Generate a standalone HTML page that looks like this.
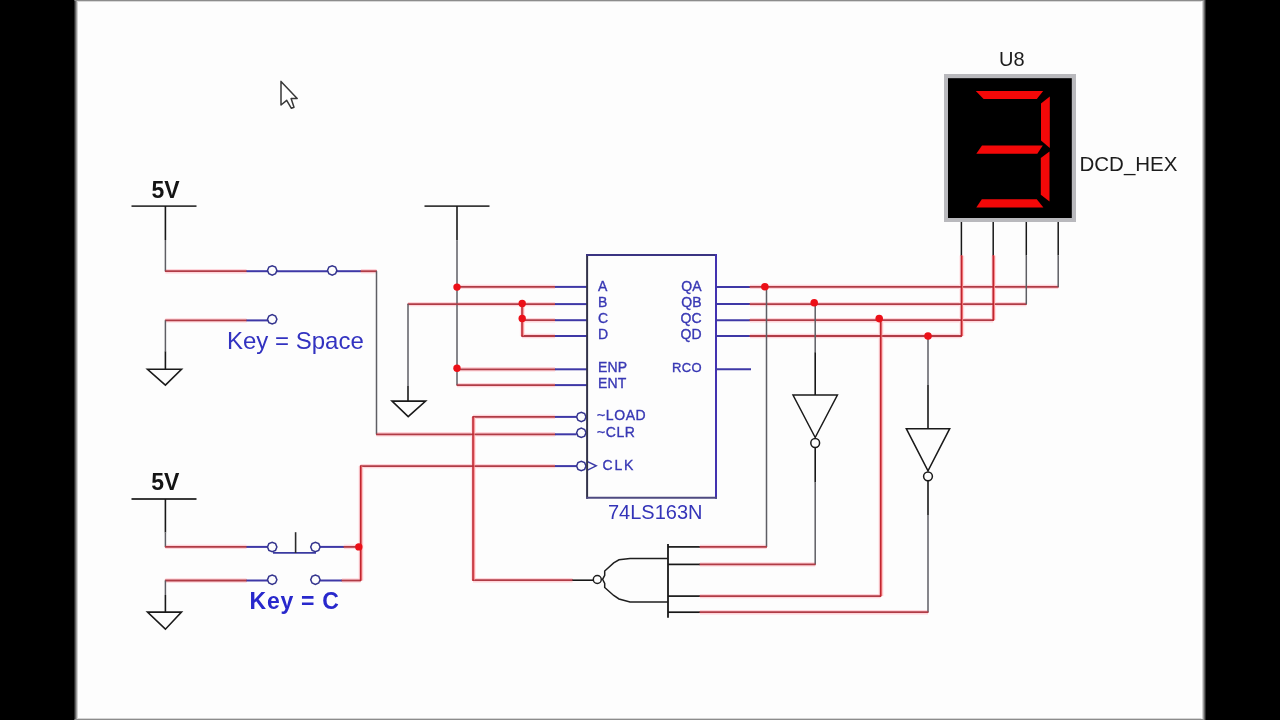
<!DOCTYPE html>
<html><head><meta charset="utf-8">
<style>
html,body{margin:0;padding:0;background:#000;width:1280px;height:720px;overflow:hidden}
svg{display:block;position:absolute;left:0;top:0;will-change:transform}
text{font-family:"Liberation Sans",sans-serif}
.pl{stroke:#3838b4;stroke-width:0.35px}
</style></head>
<body>
<svg width="1280" height="720" viewBox="0 0 1280 720">
<defs>
<linearGradient id="gl" x1="0" x2="1" y1="0" y2="0"><stop offset="0" stop-color="#000"/><stop offset="1" stop-color="#fdfdfd"/></linearGradient>
<linearGradient id="gr" x1="0" x2="1" y1="0" y2="0"><stop offset="0" stop-color="#fdfdfd"/><stop offset="1" stop-color="#000"/></linearGradient>
</defs>
<rect x="0" y="0" width="1280" height="720" fill="#000"/>
<rect x="78" y="0" width="1124" height="720" fill="#fdfdfd"/>
<rect x="73.7" y="0" width="4.6" height="720" fill="url(#gl)"/>
<rect x="1201.7" y="0" width="4.6" height="720" fill="url(#gr)"/>
<rect x="74.5" y="0" width="1129.5" height="1" fill="#8c8c8c"/>
<rect x="77.5" y="1" width="1124" height="1" fill="#d8d8d8"/>
<rect x="74.5" y="719" width="1129.5" height="1" fill="#8c8c8c"/>
<rect x="77.5" y="718" width="1124" height="1" fill="#d4d4d4"/>
<line x1="165.4" y1="271.2" x2="246.5" y2="271.2" stroke="#ffd4da" stroke-width="4.4"/>
<line x1="361" y1="271.2" x2="376.5" y2="271.2" stroke="#ffd4da" stroke-width="4.4"/>
<line x1="376.5" y1="434.3" x2="555" y2="434.3" stroke="#ffd4da" stroke-width="4.4"/>
<line x1="165.4" y1="320.4" x2="246.5" y2="320.4" stroke="#ffd4da" stroke-width="4.4"/>
<line x1="457" y1="286.9" x2="555" y2="286.9" stroke="#ffd4da" stroke-width="4.4"/>
<line x1="408" y1="304.1" x2="555" y2="304.1" stroke="#ffd4da" stroke-width="4.4"/>
<line x1="522.4" y1="304.1" x2="522.4" y2="336" stroke="#ffe2e6" stroke-width="5"/>
<line x1="522" y1="320.2" x2="555" y2="320.2" stroke="#ffd4da" stroke-width="4.4"/>
<line x1="522" y1="336" x2="555" y2="336" stroke="#ffd4da" stroke-width="4.4"/>
<line x1="457" y1="369.3" x2="555" y2="369.3" stroke="#ffd4da" stroke-width="4.4"/>
<line x1="457" y1="385.1" x2="555" y2="385.1" stroke="#ffd4da" stroke-width="4.4"/>
<line x1="473" y1="416.9" x2="555" y2="416.9" stroke="#ffd4da" stroke-width="4.4"/>
<line x1="473.4" y1="416.9" x2="473.4" y2="580.2" stroke="#ffe2e6" stroke-width="5"/>
<line x1="473" y1="580.2" x2="572.5" y2="580.2" stroke="#ffd4da" stroke-width="4.4"/>
<line x1="360.6" y1="466.1" x2="555" y2="466.1" stroke="#ffd4da" stroke-width="4.4"/>
<line x1="361" y1="466.1" x2="361" y2="580.5" stroke="#ffe2e6" stroke-width="5"/>
<line x1="750" y1="286.9" x2="1058.2" y2="286.9" stroke="#ffd4da" stroke-width="4.4"/>
<line x1="750" y1="304.1" x2="1026.3" y2="304.1" stroke="#ffd4da" stroke-width="4.4"/>
<line x1="750" y1="320.2" x2="993.2" y2="320.2" stroke="#ffd4da" stroke-width="4.4"/>
<line x1="750" y1="336" x2="961.4" y2="336" stroke="#ffd4da" stroke-width="4.4"/>
<line x1="881" y1="320.2" x2="881" y2="596.1" stroke="#ffe2e6" stroke-width="5"/>
<line x1="961.8" y1="255.6" x2="961.8" y2="336" stroke="#ffe2e6" stroke-width="5"/>
<line x1="993.6" y1="255.6" x2="993.6" y2="320.2" stroke="#ffe2e6" stroke-width="5"/>
<line x1="700" y1="546.9" x2="766.5" y2="546.9" stroke="#ffd4da" stroke-width="4.4"/>
<line x1="700" y1="564.4" x2="815.2" y2="564.4" stroke="#ffd4da" stroke-width="4.4"/>
<line x1="700" y1="596.1" x2="880.6" y2="596.1" stroke="#ffd4da" stroke-width="4.4"/>
<line x1="700" y1="612.2" x2="928" y2="612.2" stroke="#ffd4da" stroke-width="4.4"/>
<line x1="165.4" y1="546.9" x2="246.5" y2="546.9" stroke="#ffd4da" stroke-width="4.4"/>
<line x1="344" y1="546.9" x2="360.5" y2="546.9" stroke="#ffd4da" stroke-width="4.4"/>
<line x1="165.4" y1="580.5" x2="246.5" y2="580.5" stroke="#ffd4da" stroke-width="4.4"/>
<line x1="342" y1="580.5" x2="360.5" y2="580.5" stroke="#ffd4da" stroke-width="4.4"/>
<text x="165.5" y="197.5" text-anchor="middle" style="font-size:23px;fill:#141414;font-weight:bold">5V</text>
<line x1="131.5" y1="206.1" x2="196.5" y2="206.1" stroke="#3a3a3a" stroke-width="1.9"/>
<line x1="165.4" y1="206" x2="165.4" y2="240" stroke="#181818" stroke-width="1.6"/>
<line x1="165.4" y1="240" x2="165.4" y2="271.2" stroke="#5e5e64" stroke-width="1.5"/>
<line x1="164.9" y1="271.2" x2="247" y2="271.2" stroke="#b03c46" stroke-width="1.8"/>
<line x1="246.5" y1="271.2" x2="268" y2="271.2" stroke="#3e38a6" stroke-width="2"/>
<line x1="276.5" y1="271.2" x2="327.8" y2="271.2" stroke="#3e38a6" stroke-width="2"/>
<line x1="336.2" y1="271.2" x2="361" y2="271.2" stroke="#3e38a6" stroke-width="2"/>
<line x1="360.5" y1="271.2" x2="377" y2="271.2" stroke="#b03c46" stroke-width="1.8"/>
<polygon points="276.9,270.4 275.52,273.72 272.2,275.1 268.88,273.72 267.5,270.4 268.88,267.08 272.2,265.7 275.52,267.08" fill="#fdfdfd" stroke="#34348e" stroke-width="1.5"/>
<polygon points="336.9,270.4 335.52,273.72 332.2,275.1 328.88,273.72 327.5,270.4 328.88,267.08 332.2,265.7 335.52,267.08" fill="#fdfdfd" stroke="#34348e" stroke-width="1.5"/>
<line x1="376.5" y1="271.2" x2="376.5" y2="434.3" stroke="#5e5e64" stroke-width="1.5"/>
<line x1="376" y1="434.3" x2="555.5" y2="434.3" stroke="#b03c46" stroke-width="1.8"/>
<line x1="555" y1="434.3" x2="576.5" y2="434.3" stroke="#3e38a6" stroke-width="2"/>
<line x1="576.5" y1="434.3" x2="577.5" y2="433.3" stroke="#3c3470" stroke-width="1.6"/>
<polygon points="586,432.8 584.62,436.12 581.3,437.5 577.98,436.12 576.6,432.8 577.98,429.48 581.3,428.1 584.62,429.48" fill="#fdfdfd" stroke="#34348e" stroke-width="1.5"/>
<line x1="164.9" y1="320.4" x2="247" y2="320.4" stroke="#b03c46" stroke-width="1.8"/>
<line x1="246.5" y1="320.4" x2="268" y2="320.4" stroke="#3e38a6" stroke-width="2"/>
<polygon points="276.9,319.3 275.52,322.62 272.2,324 268.88,322.62 267.5,319.3 268.88,315.98 272.2,314.6 275.52,315.98" fill="#fdfdfd" stroke="#34348e" stroke-width="1.5"/>
<line x1="165.4" y1="320.4" x2="165.4" y2="351.3" stroke="#5e5e64" stroke-width="1.5"/>
<line x1="165.4" y1="351.3" x2="165.4" y2="369.3" stroke="#181818" stroke-width="1.6"/>
<polygon points="147.5,369.3 181.5,369.3 165.4,385.1" fill="none" stroke="#1a1a1a" stroke-width="1.6" stroke-linejoin="miter"/>
<text x="227" y="349.3" text-anchor="start" style="font-size:24px;fill:#3232c0">Key = Space</text>
<line x1="424.5" y1="206.1" x2="489.5" y2="206.1" stroke="#3a3a3a" stroke-width="1.9"/>
<line x1="457" y1="206" x2="457" y2="240.3" stroke="#181818" stroke-width="1.6"/>
<line x1="457" y1="240.3" x2="457" y2="385.1" stroke="#5e5e64" stroke-width="1.5"/>
<line x1="456.5" y1="286.9" x2="555.5" y2="286.9" stroke="#b03c46" stroke-width="1.8"/>
<line x1="555" y1="286.9" x2="587" y2="286.9" stroke="#3e38a6" stroke-width="2"/>
<line x1="407.5" y1="304.1" x2="555.5" y2="304.1" stroke="#b03c46" stroke-width="1.8"/>
<line x1="555" y1="304.1" x2="587" y2="304.1" stroke="#3e38a6" stroke-width="2"/>
<line x1="521.5" y1="320.2" x2="555.5" y2="320.2" stroke="#b03c46" stroke-width="1.8"/>
<line x1="555" y1="320.2" x2="587" y2="320.2" stroke="#3e38a6" stroke-width="2"/>
<line x1="521.5" y1="336" x2="555.5" y2="336" stroke="#b03c46" stroke-width="1.8"/>
<line x1="555" y1="336" x2="587" y2="336" stroke="#3e38a6" stroke-width="2"/>
<line x1="408" y1="304.1" x2="408" y2="386" stroke="#5e5e64" stroke-width="1.5"/>
<line x1="408" y1="386" x2="408" y2="401.1" stroke="#181818" stroke-width="1.6"/>
<polygon points="392,401.1 425.6,401.1 408.2,416.7" fill="none" stroke="#1a1a1a" stroke-width="1.6" stroke-linejoin="miter"/>
<line x1="456.5" y1="369.3" x2="555.5" y2="369.3" stroke="#b03c46" stroke-width="1.8"/>
<line x1="555" y1="369.3" x2="587" y2="369.3" stroke="#3e38a6" stroke-width="2"/>
<line x1="456.5" y1="385.1" x2="555.5" y2="385.1" stroke="#b03c46" stroke-width="1.8"/>
<line x1="555" y1="385.1" x2="587" y2="385.1" stroke="#3e38a6" stroke-width="2"/>
<line x1="472.5" y1="416.9" x2="555.5" y2="416.9" stroke="#b03c46" stroke-width="1.8"/>
<line x1="555" y1="416.9" x2="576.8" y2="416.9" stroke="#3e38a6" stroke-width="2"/>
<polygon points="586,416.9 584.62,420.22 581.3,421.6 577.98,420.22 576.6,416.9 577.98,413.58 581.3,412.2 584.62,413.58" fill="#fdfdfd" stroke="#34348e" stroke-width="1.5"/>
<line x1="472.5" y1="580.2" x2="573" y2="580.2" stroke="#b03c46" stroke-width="1.8"/>
<line x1="572.5" y1="580.2" x2="593" y2="580.2" stroke="#181818" stroke-width="1.6"/>
<line x1="360.1" y1="466.1" x2="555.5" y2="466.1" stroke="#b03c46" stroke-width="1.8"/>
<line x1="555" y1="466.1" x2="576.8" y2="466.1" stroke="#3e38a6" stroke-width="2"/>
<polygon points="586,466 584.62,469.32 581.3,470.7 577.98,469.32 576.6,466 577.98,462.68 581.3,461.3 584.62,462.68" fill="#fdfdfd" stroke="#34348e" stroke-width="1.5"/>
<path d="M587,461.4 L596.2,465.8 L587,470.4" fill="none" stroke="#3a3aa8" stroke-width="1.5"/>
<line x1="587.1" y1="254" x2="587.1" y2="498.7" stroke="#33334a" stroke-width="2"/>
<line x1="586.1" y1="255" x2="717" y2="255" stroke="#3a3482" stroke-width="2"/>
<line x1="716" y1="254" x2="716" y2="498.7" stroke="#4232b0" stroke-width="2"/>
<line x1="586.1" y1="497.8" x2="717" y2="497.8" stroke="#4e4a80" stroke-width="2"/>
<text x="598" y="290.5" text-anchor="start" style="font-size:14px;fill:#3838b4" class="pl">A</text>
<text x="598" y="306.8" text-anchor="start" style="font-size:14px;fill:#3838b4" class="pl">B</text>
<text x="598" y="322.8" text-anchor="start" style="font-size:14px;fill:#3838b4" class="pl">C</text>
<text x="598" y="339" text-anchor="start" style="font-size:14px;fill:#3838b4" class="pl">D</text>
<text x="598" y="371.7" text-anchor="start" style="font-size:14px;fill:#3838b4;letter-spacing:0.2px" class="pl">ENP</text>
<text x="598" y="388" text-anchor="start" style="font-size:14px;fill:#3838b4;letter-spacing:0.2px" class="pl">ENT</text>
<text x="597" y="420.2" text-anchor="start" style="font-size:14px;fill:#3838b4;letter-spacing:0.6px" class="pl">~LOAD</text>
<text x="597" y="437" text-anchor="start" style="font-size:14px;fill:#3838b4;letter-spacing:0.6px" class="pl">~CLR</text>
<text x="602.6" y="469.5" text-anchor="start" style="font-size:14px;fill:#3838b4;letter-spacing:1.8px" class="pl">CLK</text>
<text x="701.5" y="290.6" text-anchor="end" style="font-size:14px;fill:#3838b4;letter-spacing:0px" class="pl">QA</text>
<text x="701.5" y="306.6" text-anchor="end" style="font-size:14px;fill:#3838b4;letter-spacing:0px" class="pl">QB</text>
<text x="701.5" y="322.7" text-anchor="end" style="font-size:14px;fill:#3838b4;letter-spacing:0px" class="pl">QC</text>
<text x="701.5" y="338.7" text-anchor="end" style="font-size:14px;fill:#3838b4;letter-spacing:0px" class="pl">QD</text>
<text x="702" y="371.5" text-anchor="end" style="font-size:13px;fill:#3838b4;letter-spacing:0.4px" class="pl">RCO</text>
<text x="608" y="519" text-anchor="start" style="font-size:20px;fill:#3434b8">74LS163N</text>
<line x1="716" y1="286.9" x2="750" y2="286.9" stroke="#3e38a6" stroke-width="2"/>
<line x1="749.5" y1="286.9" x2="1058.7" y2="286.9" stroke="#b03c46" stroke-width="1.8"/>
<line x1="716" y1="304.1" x2="750" y2="304.1" stroke="#3e38a6" stroke-width="2"/>
<line x1="749.5" y1="304.1" x2="1026.8" y2="304.1" stroke="#b03c46" stroke-width="1.8"/>
<line x1="716" y1="320.2" x2="750" y2="320.2" stroke="#3e38a6" stroke-width="2"/>
<line x1="749.5" y1="320.2" x2="993.7" y2="320.2" stroke="#b03c46" stroke-width="1.8"/>
<line x1="716" y1="336" x2="750" y2="336" stroke="#3e38a6" stroke-width="2"/>
<line x1="749.5" y1="336" x2="961.9" y2="336" stroke="#b03c46" stroke-width="1.8"/>
<line x1="716" y1="369.2" x2="751" y2="369.2" stroke="#3e38a6" stroke-width="2"/>
<line x1="766.5" y1="286.9" x2="766.5" y2="546.9" stroke="#5e5e64" stroke-width="1.5"/>
<line x1="815.2" y1="304.1" x2="815.2" y2="352.3" stroke="#5e5e64" stroke-width="1.5"/>
<line x1="815.2" y1="352.3" x2="815.2" y2="395" stroke="#181818" stroke-width="1.6"/>
<line x1="928" y1="336" x2="928" y2="385" stroke="#5e5e64" stroke-width="1.5"/>
<line x1="928" y1="385" x2="928" y2="428.7" stroke="#181818" stroke-width="1.6"/>
<line x1="961.4" y1="221" x2="961.4" y2="255.6" stroke="#181818" stroke-width="1.5"/>
<line x1="993.2" y1="221" x2="993.2" y2="255.6" stroke="#181818" stroke-width="1.5"/>
<line x1="1026.3" y1="221" x2="1026.3" y2="255.6" stroke="#181818" stroke-width="1.5"/>
<line x1="1058.2" y1="221" x2="1058.2" y2="255.6" stroke="#181818" stroke-width="1.5"/>
<line x1="1026.3" y1="255.6" x2="1026.3" y2="304.1" stroke="#5e5e64" stroke-width="1.5"/>
<line x1="1058.2" y1="255.6" x2="1058.2" y2="286.9" stroke="#5e5e64" stroke-width="1.5"/>
<rect x="944" y="74" width="132" height="148" fill="#b9b9bd"/>
<rect x="948" y="78.2" width="123.8" height="139.8" fill="#000"/>
<polygon points="975.8,91 1043.2,91 1036.8,99 983.6,99" fill="#f40808" stroke="none" stroke-width="1.5" stroke-linejoin="miter"/>
<polygon points="1049.8,96.5 1049.8,148 1041,140.5 1041,103.5" fill="#f40808" stroke="none" stroke-width="1.5" stroke-linejoin="miter"/>
<polygon points="982,145.6 1042.8,145.6 1037.3,153.8 976.3,153.8" fill="#f40808" stroke="none" stroke-width="1.5" stroke-linejoin="miter"/>
<polygon points="1049.5,151.5 1049.5,201.6 1040.8,194.8 1040.8,158" fill="#f40808" stroke="none" stroke-width="1.5" stroke-linejoin="miter"/>
<polygon points="981.8,199.3 1036.8,199.3 1043.4,207.5 976.3,207.5" fill="#f40808" stroke="none" stroke-width="1.5" stroke-linejoin="miter"/>
<text x="999" y="66.3" text-anchor="start" style="font-size:20px;fill:#1c1c1c">U8</text>
<text x="1079.5" y="170.6" text-anchor="start" style="font-size:20.5px;fill:#1c1c1c">DCD_HEX</text>
<polygon points="793,395 837.4,395 815.2,437.5" fill="none" stroke="#1a1a1a" stroke-width="1.5" stroke-linejoin="miter"/>
<circle cx="815.2" cy="443" r="4.4" fill="#fdfdfd" stroke="#1a1a1a" stroke-width="1.5"/>
<line x1="815.2" y1="447.5" x2="815.2" y2="482.4" stroke="#181818" stroke-width="1.6"/>
<line x1="815.2" y1="482.4" x2="815.2" y2="564.4" stroke="#5e5e64" stroke-width="1.5"/>
<polygon points="906.3,428.7 949.7,428.7 928,470.8" fill="none" stroke="#1a1a1a" stroke-width="1.5" stroke-linejoin="miter"/>
<circle cx="928" cy="476.3" r="4.4" fill="#fdfdfd" stroke="#1a1a1a" stroke-width="1.5"/>
<line x1="928" y1="480.8" x2="928" y2="515" stroke="#181818" stroke-width="1.6"/>
<line x1="928" y1="515" x2="928" y2="612.2" stroke="#5e5e64" stroke-width="1.5"/>
<line x1="668" y1="543.9" x2="668" y2="617.7" stroke="#181818" stroke-width="1.8"/>
<line x1="668" y1="546.9" x2="700" y2="546.9" stroke="#181818" stroke-width="1.7"/>
<line x1="699.5" y1="546.9" x2="767" y2="546.9" stroke="#b03c46" stroke-width="1.8"/>
<line x1="668" y1="564.4" x2="700" y2="564.4" stroke="#181818" stroke-width="1.7"/>
<line x1="699.5" y1="564.4" x2="815.7" y2="564.4" stroke="#b03c46" stroke-width="1.8"/>
<line x1="668" y1="596.1" x2="700" y2="596.1" stroke="#181818" stroke-width="1.7"/>
<line x1="699.5" y1="596.1" x2="881.1" y2="596.1" stroke="#b03c46" stroke-width="1.8"/>
<line x1="668" y1="612.2" x2="700" y2="612.2" stroke="#181818" stroke-width="1.7"/>
<line x1="699.5" y1="612.2" x2="928.5" y2="612.2" stroke="#b03c46" stroke-width="1.8"/>
<path d="M668,558.5 L630,558.5 L619,559.8 L613.7,562.9 L604.7,571 L604.7,575.3 L602.6,579.3 L604.7,583.5 L604.7,587.5 L613.7,595.5 L619,599 L630,601.9 L668,601.9" fill="none" stroke="#1e1e1e" stroke-width="1.5"/>
<circle cx="597.3" cy="579.5" r="4" fill="#fdfdfd" stroke="#1e1e1e" stroke-width="1.5"/>
<text x="165.4" y="490" text-anchor="middle" style="font-size:23px;fill:#141414;font-weight:bold">5V</text>
<line x1="131.5" y1="499" x2="196.5" y2="499" stroke="#3a3a3a" stroke-width="1.9"/>
<line x1="165.4" y1="499" x2="165.4" y2="532.5" stroke="#181818" stroke-width="1.6"/>
<line x1="165.4" y1="532.5" x2="165.4" y2="546.9" stroke="#5e5e64" stroke-width="1.5"/>
<line x1="164.9" y1="546.9" x2="247" y2="546.9" stroke="#b03c46" stroke-width="1.8"/>
<line x1="246.5" y1="546.9" x2="268" y2="546.9" stroke="#3e38a6" stroke-width="2"/>
<line x1="319.6" y1="546.9" x2="344" y2="546.9" stroke="#3e38a6" stroke-width="2"/>
<line x1="343.5" y1="546.9" x2="361" y2="546.9" stroke="#b03c46" stroke-width="1.8"/>
<polygon points="276.9,547 275.52,550.32 272.2,551.7 268.88,550.32 267.5,547 268.88,543.68 272.2,542.3 275.52,543.68" fill="#fdfdfd" stroke="#34348e" stroke-width="1.5"/>
<polygon points="320.1,547 318.72,550.32 315.4,551.7 312.08,550.32 310.7,547 312.08,543.68 315.4,542.3 318.72,543.68" fill="#fdfdfd" stroke="#34348e" stroke-width="1.5"/>
<line x1="273" y1="552.9" x2="316" y2="552.9" stroke="#3a3aa0" stroke-width="1.7"/>
<line x1="295.6" y1="532.2" x2="295.6" y2="553" stroke="#2a2a2a" stroke-width="1.6"/>
<line x1="164.9" y1="580.5" x2="247" y2="580.5" stroke="#b03c46" stroke-width="1.8"/>
<line x1="246.5" y1="580.5" x2="268" y2="580.5" stroke="#3e38a6" stroke-width="2"/>
<line x1="319.6" y1="580.5" x2="342" y2="580.5" stroke="#3e38a6" stroke-width="2"/>
<line x1="341.5" y1="580.5" x2="361" y2="580.5" stroke="#b03c46" stroke-width="1.8"/>
<polygon points="276.9,579.7 275.52,583.02 272.2,584.4 268.88,583.02 267.5,579.7 268.88,576.38 272.2,575 275.52,576.38" fill="#fdfdfd" stroke="#34348e" stroke-width="1.5"/>
<polygon points="320.1,579.7 318.72,583.02 315.4,584.4 312.08,583.02 310.7,579.7 312.08,576.38 315.4,575 318.72,576.38" fill="#fdfdfd" stroke="#34348e" stroke-width="1.5"/>
<line x1="165.4" y1="580.5" x2="165.4" y2="595" stroke="#5e5e64" stroke-width="1.5"/>
<line x1="165.4" y1="595" x2="165.4" y2="612.1" stroke="#181818" stroke-width="1.6"/>
<polygon points="147.5,612.1 181.5,612.1 165.4,629.2" fill="none" stroke="#1a1a1a" stroke-width="1.6" stroke-linejoin="miter"/>
<text x="249.6" y="609" text-anchor="start" style="font-size:23px;fill:#2828cc;font-weight:bold;letter-spacing:0.7px">Key = C</text>
<line x1="523.1" y1="304.1" x2="523.1" y2="336" stroke="#f88080" stroke-width="1.2"/>
<line x1="522" y1="303.6" x2="522" y2="336.5" stroke="#c02630" stroke-width="1.6"/>
<line x1="474.1" y1="416.9" x2="474.1" y2="580.2" stroke="#f88080" stroke-width="1.2"/>
<line x1="473" y1="416.4" x2="473" y2="580.7" stroke="#c02630" stroke-width="1.6"/>
<line x1="361.7" y1="466.1" x2="361.7" y2="580.5" stroke="#f88080" stroke-width="1.2"/>
<line x1="360.6" y1="465.6" x2="360.6" y2="581" stroke="#c02630" stroke-width="1.6"/>
<line x1="881.7" y1="320.2" x2="881.7" y2="596.1" stroke="#f88080" stroke-width="1.2"/>
<line x1="880.6" y1="319.7" x2="880.6" y2="596.6" stroke="#c02630" stroke-width="1.6"/>
<line x1="962.5" y1="255.6" x2="962.5" y2="336" stroke="#f88080" stroke-width="1.2"/>
<line x1="961.4" y1="255.1" x2="961.4" y2="336.5" stroke="#c02630" stroke-width="1.6"/>
<line x1="994.3" y1="255.6" x2="994.3" y2="320.2" stroke="#f88080" stroke-width="1.2"/>
<line x1="993.2" y1="255.1" x2="993.2" y2="320.7" stroke="#c02630" stroke-width="1.6"/>
<circle cx="457" cy="287.1" r="3.7" fill="#ec1018"/>
<circle cx="522.2" cy="303.5" r="3.7" fill="#ec1018"/>
<circle cx="522.2" cy="318.5" r="3.7" fill="#ec1018"/>
<circle cx="457" cy="368.2" r="3.7" fill="#ec1018"/>
<circle cx="764.9" cy="286.8" r="3.8" fill="#ec1018"/>
<circle cx="814.2" cy="302.7" r="3.8" fill="#ec1018"/>
<circle cx="879.2" cy="318.6" r="3.8" fill="#ec1018"/>
<circle cx="928" cy="336" r="3.8" fill="#ec1018"/>
<circle cx="358.8" cy="546.9" r="3.7" fill="#ec1018"/>
<path d="M281,81.4 L281,105 L286.7,100.3 L291.4,108.3 L294,107.2 L291.1,98.6 L297.2,98.6 Z" fill="#fff" stroke="#383838" stroke-width="1.5" stroke-linejoin="round"/>
</svg>
</body></html>
